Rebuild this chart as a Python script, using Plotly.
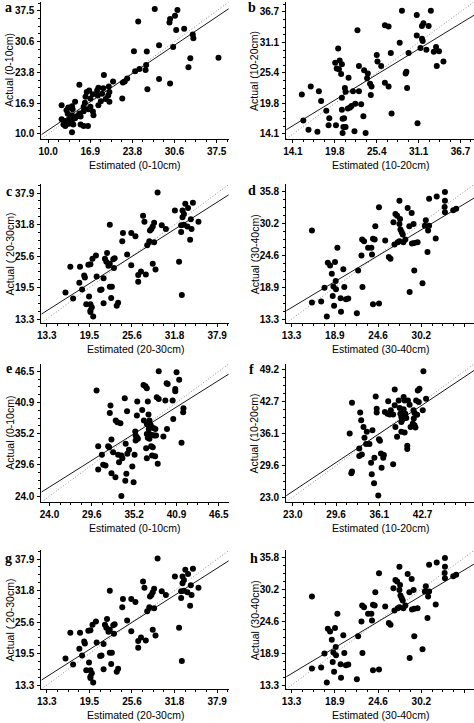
import plotly.graph_objects as go

# ---------------- data ----------------
a_est = [27.4, 31.1, 30.7, 29.9, 29.8, 24.7, 32.2, 30.9, 33.6, 33.7, 28.1, 30.4, 24.0, 26.1, 37.8, 33.2,
         32.9, 26.0, 25.9, 24.9, 24.2, 28.1, 29.9, 26.2, 22.9, 22.5, 22.2, 20.6, 22.1, 19.1, 19.9, 19.0,
         18.2, 18.0, 18.8, 18.1, 20.0, 19.8, 19.4, 20.0, 18.6, 17.3, 16.7, 16.3, 16.1, 15.1, 16.9, 18.2,
         16.0, 15.8, 16.9, 16.6, 17.3, 17.4, 15.8, 15.1, 14.8, 15.3, 14.4, 13.9, 13.3, 14.0, 13.0, 12.2,
         13.2, 13.9, 13.5, 13.9, 12.2, 12.5, 12.8, 13.4, 14.1, 15.3, 15.8, 16.5, 13.9, 14.4, 12.8]
a_act = [37.9, 37.7, 36.4, 35.7, 34.9, 35.1, 33.5, 33.2, 32.2, 31.4, 29.8, 29.4, 28.5, 28.4, 27.0, 26.9,
         24.9, 25.4, 24.3, 24.5, 24.0, 22.3, 21.3, 20.0, 22.4, 21.7, 21.5, 21.7, 17.9, 23.2, 20.6, 20.2,
         20.3, 19.7, 19.0, 18.6, 19.4, 18.6, 17.8, 17.2, 17.3, 18.9, 19.7, 19.4, 18.3, 21.0, 17.9, 16.4,
         17.0, 16.1, 16.1, 15.5, 15.0, 14.2, 15.1, 14.6, 14.0, 13.9, 17.2, 16.2, 15.9, 15.5, 15.3, 16.4,
         14.5, 14.2, 13.3, 13.1, 13.3, 12.1, 11.8, 12.3, 12.1, 12.1, 11.8, 11.8, 10.4, 13.5, 12.9]

b_est = [28.8, 30.8, 32.7, 31.7, 31.5, 32.4, 26.5, 27.0, 22.8, 28.5, 30.8, 31.5, 31.6, 31.3, 32.1, 33.4,
         33.8, 33.1, 34.4, 33.5, 29.7, 27.3, 25.4, 25.5, 26.0, 29.4, 29.3, 29.5, 26.5, 27.0, 27.4, 30.9,
         23.0, 23.7, 24.2, 24.1, 24.5, 24.7, 24.6, 20.2, 19.8, 20.4, 20.7, 20.0, 20.3, 20.6, 21.6, 21.1,
         21.2, 20.7, 22.2, 23.0, 16.5, 17.6, 15.3, 17.9, 18.6, 19.0, 18.9, 19.9, 20.7, 21.0, 20.8, 21.5,
         21.8, 22.0, 22.5, 23.3, 23.6, 20.9, 21.2, 20.8, 22.4, 23.9, 17.4, 16.2, 15.5]
b_act = [36.9, 36.1, 36.9, 34.6, 34.1, 34.1, 34.2, 34.0, 33.3, 31.0, 32.3, 31.7, 31.3, 30.0, 29.7, 30.2,
         29.4, 29.3, 27.5, 26.7, 29.1, 29.1, 28.7, 27.5, 26.7, 25.6, 25.3, 22.6, 23.6, 22.9, 17.9, 16.1,
         26.7, 25.9, 25.3, 24.4, 23.4, 22.9, 21.3, 29.9, 27.3, 27.7, 27.0, 26.2, 26.1, 25.2, 24.5, 22.6,
         21.9, 20.8, 22.0, 22.0, 22.9, 22.0, 21.4, 20.2, 18.4, 17.0, 15.7, 15.7, 18.6, 17.0, 16.9, 18.8,
         19.0, 19.3, 19.7, 19.6, 17.4, 15.4, 15.4, 14.3, 14.6, 14.3, 14.5, 14.9, 16.6]

c_est = [29.3, 33.3, 34.4, 33.7, 31.8, 32.9, 33.1, 32.9, 34.1, 27.2, 27.4, 28.8, 28.6, 28.4, 28.2, 29.9,
         30.5, 32.7, 33.1, 33.6, 34.2, 35.2, 32.7, 34.0, 28.1, 28.8, 27.8, 22.4, 24.3, 24.2, 25.5, 26.1,
         24.9, 25.5, 26.5, 26.5, 26.9, 27.6, 28.6, 29.0, 32.4, 32.8, 22.0, 21.7, 21.9, 22.4, 22.9, 23.1,
         23.0, 22.2, 20.4, 19.9, 19.6, 19.3, 18.1, 16.7, 18.7, 18.8, 20.5, 21.5, 18.0, 16.0, 17.1, 18.4,
         21.0, 21.2, 22.4, 22.7, 22.6, 21.5, 19.0, 19.4, 19.6, 19.8, 19.6, 20.0, 23.4, 23.6, 19.6]
c_act = [38.0, 35.8, 36.0, 35.0, 34.5, 34.5, 33.8, 33.2, 32.8, 33.5, 32.3, 32.1, 31.4, 30.9, 30.6, 31.6,
         30.9, 31.6, 31.7, 31.4, 30.9, 32.3, 30.3, 28.8, 28.5, 28.3, 27.7, 31.7, 30.1, 28.5, 30.1, 29.5,
         25.9, 23.8, 20.6, 21.9, 22.6, 22.0, 24.1, 23.0, 24.5, 18.0, 26.2, 25.1, 24.5, 24.1, 25.0, 25.2,
         23.3, 23.7, 25.7, 25.1, 24.0, 23.9, 23.5, 23.5, 21.8, 21.4, 21.6, 21.3, 20.4, 18.5, 17.3, 19.1,
         19.0, 19.1, 19.6, 19.6, 17.4, 16.4, 16.2, 17.7, 16.2, 15.6, 15.0, 13.8, 15.9, 16.5, 14.7]

d_est = [15.95, 15.95, 17.15, 17.58, 17.88, 18.01, 18.31, 18.95, 19.26, 18.53, 18.74, 19.04, 18.65, 18.83,
         19.08, 19.68, 20.16, 20.03, 20.37, 20.67, 19.73, 21.79, 21.96, 22.39, 22.52, 22.48, 22.73, 23.25,
         23.68, 23.76, 23.89, 24.11, 24.19, 24.67, 23.89, 24.67, 25.48, 25.95, 26.17, 26.55, 26.81, 27.03,
         27.33, 27.41, 27.46, 27.63, 27.33, 27.76, 26.68, 27.11, 27.33, 27.84, 28.1, 28.4, 28.92, 28.62,
         29.17, 28.96, 29.26, 29.69, 29.26, 28.66, 30.33, 30.63, 30.76, 31.19, 31.06, 30.98, 32.05, 31.19,
         32.18, 33.25, 33.25, 33.21, 33.25, 34.33, 34.71]
d_act = [28.91, 16.22, 16.4, 18.85, 13.77, 23.24, 22.77, 23.35, 25.87, 21.31, 19.03, 20.02, 17.39, 15.64,
         18.56, 16.98, 18.97, 22.07, 16.81, 16.93, 14.59, 14.35, 21.89, 24.52, 18.97, 27.33, 27.04, 25.87,
         25.87, 24.7, 27.45, 27.33, 29.67, 33.0, 15.93, 16.05, 27.15, 24.23, 23.94, 30.37, 31.83, 31.54,
         34.17, 30.95, 29.08, 28.61, 30.07, 28.21, 26.45, 26.86, 27.04, 26.86, 27.33, 32.88, 32.0, 29.67,
         30.07, 26.63, 26.74, 26.86, 21.89, 18.09, 19.61, 29.78, 30.72, 29.78, 28.91, 25.11, 27.5, 34.52,
         34.93, 35.69, 34.17, 33.06, 32.12, 32.47, 32.76]

e_est = [30.25, 30.47, 30.47, 30.96, 31.13, 31.44, 31.79, 31.92, 32.1, 32.01, 32.23, 32.23, 32.45, 32.76,
         32.8, 33.02, 33.42, 33.11, 33.24, 33.55, 33.68, 33.55, 34.0, 34.3, 34.12, 34.56, 34.21, 34.07,
         34.34, 35.0, 35.17, 35.3, 35.44, 35.61, 35.74, 35.44, 35.61, 35.66, 36.31, 36.49, 36.75, 36.93,
         37.06, 37.15, 36.54, 36.93, 36.84, 36.93, 37.28, 37.41, 37.19, 37.5, 37.28, 36.93, 37.06, 37.28,
         37.63, 37.81, 38.07, 37.94, 38.16, 37.72, 37.5, 37.63, 38.03, 38.38, 38.51, 38.25, 38.51, 39.13,
         39.39, 39.56, 39.7, 39.61, 40.36, 40.44, 40.71, 40.71, 40.88, 41.23, 41.54, 41.8, 41.76, 35.39]
e_act = [43.02, 33.0, 28.8, 31.44, 29.64, 29.52, 33.0, 32.82, 40.32, 39.0, 34.2, 28.14, 31.92, 27.42,
         37.62, 37.32, 37.14, 31.44, 30.12, 31.32, 30.84, 24.0, 41.64, 39.3, 33.42, 32.34, 28.02, 26.76,
         31.62, 29.34, 26.52, 31.44, 34.92, 34.62, 34.32, 34.02, 38.52, 41.04, 39.54, 44.04, 43.8, 43.44,
         41.04, 38.7, 37.62, 37.02, 32.64, 30.84, 37.62, 36.9, 36.12, 36.54, 35.22, 35.22, 34.5, 34.32,
         35.04, 36.3, 36.12, 34.92, 34.92, 32.82, 33.0, 31.32, 31.2, 29.82, 46.5, 41.82, 41.52, 34.74,
         41.22, 44.34, 44.22, 36.12, 41.22, 37.92, 43.32, 42.9, 46.32, 45.0, 33.6, 39.84, 39.12, 35.64]

f_est = [31.61, 31.96, 31.96, 31.86, 33.06, 33.06, 33.45, 33.2, 33.35, 33.7, 33.85, 34.2, 34.1, 34.6,
         34.85, 34.95, 35.05, 35.35, 35.3, 35.55, 35.7, 35.7, 35.94, 36.04, 36.19, 36.34, 36.44, 36.69,
         36.79, 36.94, 37.34, 37.44, 37.84, 38.19, 38.43, 38.43, 38.53, 38.78, 39.03, 39.18, 39.28, 39.43,
         39.53, 39.43, 39.68, 39.78, 39.93, 39.78, 40.03, 39.83, 40.18, 39.43, 39.93, 40.43, 40.68, 40.33,
         40.33, 40.83, 41.17, 41.27, 41.42, 41.32, 41.67, 41.82, 41.92, 42.17, 42.07, 41.42, 41.57, 42.67,
         42.77, 43.17, 37.69, 38.19]
f_act = [36.12, 42.46, 28.28, 27.93, 33.05, 31.48, 31.82, 40.42, 38.85, 37.48, 35.23, 36.46, 33.94, 33.94,
         30.12, 27.73, 36.8, 31.14, 25.89, 43.76, 41.24, 40.42, 23.36, 34.96, 34.62, 32.03, 29.09, 31.14,
         31.69, 40.55, 40.21, 42.74, 40.89, 29.78, 45.19, 41.92, 37.48, 35.44, 42.94, 41.37, 40.21, 39.53,
         38.85, 38.51, 39.87, 43.62, 42.94, 41.1, 40.21, 39.33, 39.33, 36.46, 36.32, 42.94, 42.05, 33.6,
         32.91, 37.48, 38.17, 40.89, 40.35, 39.19, 42.94, 40.0, 44.99, 45.33, 42.6, 37.83, 37.35, 40.89,
         48.94, 43.28, 40.01, 40.01]

tick_labels = {
    "a": ["10.0", "16.9", "23.8", "30.6", "37.5"],
    "b": ["14.1", "19.8", "25.4", "31.1", "36.7"],
    "c": ["13.3", "19.5", "25.6", "31.8", "37.9"],
    "d": ["13.3", "18.9", "24.6", "30.2", "35.8"],
    "e": ["24.0", "29.6", "35.2", "40.9", "46.5"],
    "f": ["23.0", "29.6", "36.1", "42.7", "49.2"],
}
x_titles = {"a": "Estimated (0-10cm)", "b": "Estimated (10-20cm)", "c": "Estimated (20-30cm)",
            "d": "Estimated (30-40cm)", "e": "Estimated (0-10cm)", "f": "Estimated (10-20cm)"}
y_titles = {"a": "Actual (0-10cm)", "b": "Actual (10-20cm)", "c": "Actual ( 20-30cm)",
            "d": "Actual (30-40cm)", "e": "Actual (0-10cm)", "f": "Actual (10-20cm)"}
fit_slope = {"a": 0.92, "b": 0.836, "c": 0.861, "d": 0.813, "e": 0.855, "f": 0.907}
fit_intercept = {"a": 1.66, "b": 3.86, "c": 3.49, "d": 4.52, "e": 5.12, "f": 3.35}
axis_range = {"a": [8.9, 39.48], "b": [13.19, 38.52], "c": [12.52, 39.58],
              "d": [12.6, 37.03], "e": [22.92, 47.82], "f": [22.0, 50.43]}
values = {"a": (a_est, a_act), "b": (b_est, b_act), "c": (c_est, c_act),
          "d": (d_est, d_act), "e": (e_est, e_act), "f": (f_est, f_act)}

# panel letter -> data set shown (g and h repeat c and d)
panel_sets = {"a": "a", "b": "b", "c": "c", "d": "d", "e": "e", "f": "f", "g": "c", "h": "d"}

# ---------------- layout geometry (pixels) ----------------
W, H = 474, 723
def px(x):
    return x / W
def py(y):
    return 1 - y / H

cols = [(37.7, 226.7), (284.6, 474.0)]
rows = [(2.0, 139.3), (185.0, 324.0), (365.0, 503.5), (552.0, 691.0)]
letter_pos = {"a": (5, 8), "b": (250, 8), "c": (5, 192), "d": (250, 191),
              "e": (5, 370), "f": (250, 371), "g": (5, 560), "h": (252, 560)}

fig = go.Figure()
layout = dict(width=W, height=H, margin=dict(l=0, r=0, t=0, b=0),
              paper_bgcolor="white", plot_bgcolor="white", showlegend=False)
annotations = []

tickfont = dict(family="Liberation Sans, Arial", size=10, color="black", weight="bold")
titlefont = dict(family="Liberation Sans, Arial", size=10.5, color="black")

for i, letter in enumerate("abcdefgh"):
    key = panel_sets[letter]
    est, act = values[key]
    r0, r1 = axis_range[key]
    labels = tick_labels[key]
    lo, hi = float(labels[0]), float(labels[-1])
    step = (hi - lo) / 4
    tv = [lo + k * step for k in range(5)]
    row, col = divmod(i, 2)
    (x0, x1), (y0, y1) = cols[col], rows[row]
    n = i + 1
    xa = "x" if n == 1 else f"x{n}"
    ya = "y" if n == 1 else f"y{n}"
    xkey = "xaxis" if n == 1 else f"xaxis{n}"
    ykey = "yaxis" if n == 1 else f"yaxis{n}"

    common = dict(range=[r0, r1], showgrid=False, zeroline=False, showline=True,
                  linecolor="black", linewidth=1, ticks="outside", ticklen=3,
                  tickcolor="black", tickwidth=1, tickmode="array", tickvals=tv,
                  ticktext=labels, tickfont=tickfont, fixedrange=True,
                  minor=dict(tick0=lo, dtick=step / 4, ticks="outside", ticklen=2,
                             tickcolor="black", showgrid=False))
    layout[xkey] = dict(common, domain=[px(x0), px(x1)], anchor=ya)
    layout[ykey] = dict(common, domain=[py(y1), py(y0)], anchor=xa, ticklabelstandoff=1)

    # 1:1 line (dotted)
    fig.add_trace(go.Scatter(x=[r0, r1], y=[r0, r1], mode="lines", xaxis=xa, yaxis=ya,
                             line=dict(color="#909090", width=1, dash="1px,2px"),
                             hoverinfo="skip"))
    # fitted regression line (solid)
    b, a0 = fit_slope[key], fit_intercept[key]
    fig.add_trace(go.Scatter(x=[r0, r1], y=[a0 + b * r0, a0 + b * r1], mode="lines",
                             xaxis=xa, yaxis=ya, line=dict(color="#1a1a1a", width=1),
                             hoverinfo="skip"))
    # points
    fig.add_trace(go.Scatter(x=est, y=act, mode="markers", xaxis=xa, yaxis=ya,
                             marker=dict(color="black", size=6, line=dict(width=0))))

    annotations.append(dict(text=x_titles[key], xref="paper", yref="paper",
                            x=px((x0 + x1) / 2), y=py(y1 + 26), xanchor="center",
                            yanchor="middle", showarrow=False, font=titlefont))
    annotations.append(dict(text=y_titles[key], xref="paper", yref="paper",
                            x=px(x0 - 32), y=py((y0 + y1) / 2), xanchor="center",
                            yanchor="middle", textangle=-90, showarrow=False, font=titlefont))
    lx, ly = letter_pos[letter]
    annotations.append(dict(text=letter, xref="paper", yref="paper", x=px(lx), y=py(ly),
                            xanchor="center", yanchor="middle", showarrow=False,
                            font=dict(family="Liberation Serif, Times New Roman", size=14,
                                      color="black", weight="bold")))

layout["annotations"] = annotations
fig.update_layout(**layout)
fig.write_html("out.html")
